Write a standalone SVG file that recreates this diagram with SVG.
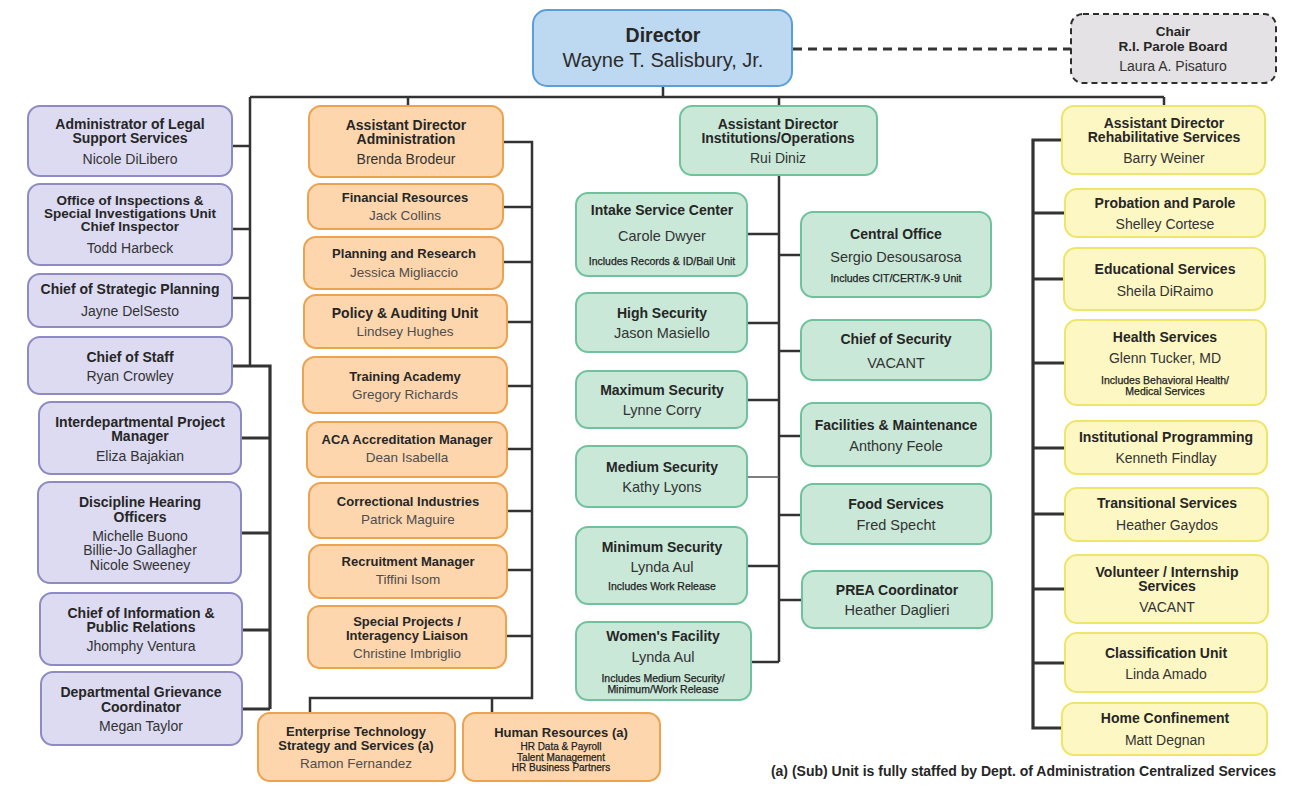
<svg xmlns="http://www.w3.org/2000/svg" width="1300" height="789" viewBox="0 0 1300 789">
<style>
text{font-family:"Liberation Sans",Arial,sans-serif;text-anchor:middle;fill:#2b2b2b}
.t{font-weight:bold;font-size:14px;fill:#262626}
.n{font-size:14px;fill:#333}
.ot{font-weight:bold;font-size:13px;fill:#262626}
.on{font-size:13.5px;fill:#4d4d4d}
.gt{font-weight:bold;font-size:14px;fill:#262626}
.gn{font-size:14.5px;fill:#333}
.s{font-size:10.5px;fill:#222;stroke:#222;stroke-width:0.25}
.hs{font-size:10px;fill:#222;stroke:#222;stroke-width:0.25}
.lav{fill:#dddbf1;stroke:#8e8bc4;stroke-width:2}
.org{fill:#fdd6ad;stroke:#eca24f;stroke-width:2}
.grn{fill:#c9e8d8;stroke:#70c29c;stroke-width:2}
.yel{fill:#fdf7c3;stroke:#efe56a;stroke-width:2}
.dir{fill:#bdd8f1;stroke:#5c9fd7;stroke-width:2}
.chair{fill:#e4e2e4;stroke:#2e2e2e;stroke-width:2;stroke-dasharray:6 4}
.c{fill:none;stroke:#333;stroke-width:2.5}
.ct{fill:none;stroke:#333;stroke-width:3.2}
.thin{fill:none;stroke:#555;stroke-width:1.5}
.d{fill:none;stroke:#333;stroke-width:3;stroke-dasharray:9 6}
</style>
<rect width="1300" height="789" fill="#ffffff"/>
<g id="connectors">
<path class="d" d="M793 49 H1071"/>
<path class="c" d="M663 86 V97 M250 97 H1164 M408 97 V106 M779 97 V106 M1164 97 V106"/>
<path class="c" d="M250 97 V366 M232 146 H250 M232 229 H250 M232 298 H250"/>
<path class="ct" d="M232 366 H270 V709 M241 438 H270 M241 533 H270 M242 630 H270 M242 709 H270"/>
<path class="c" d="M503 142 H532 V698 H310 V713 M492 698 V713 M503 207 H532 M503 262 H532 M507 322 H532 M507 386 H532 M507 449 H532 M507 511 H532 M507 570 H532 M506 636 H532"/>
<path class="c" d="M779 175 V662 M747 234 H779 M747 323 H779 M747 400 H779 M747 566 H779 M751 662 H779 M779 255 H801 M779 351 H801 M779 436 H801 M779 515 H801 M779 600 H802"/>
<path class="thin" d="M747 477 H779"/>
<path class="ct" d="M1062 140 H1033 V728 H1062 M1033 213 H1065 M1033 279 H1064 M1033 363 H1065 M1033 448 H1065 M1033 514 H1065 M1033 589 H1065 M1033 663 H1065"/>
</g>
<g id="director"><rect class="dir" x="533" y="10" width="259" height="76" rx="14"/><text x="663" y="42" style="font-weight:bold;font-size:19.5px;fill:#262626">Director</text><text x="663" y="67" style="font-size:20px;fill:#2b2b2b">Wayne T. Salisbury, Jr.</text></g>
<g id="chair"><rect class="chair" x="1071" y="14" width="205" height="69" rx="12"/><text class="t" x="1173" y="36" style="font-size:13.5px">Chair</text><text class="t" x="1173" y="51" style="font-size:13.5px">R.I. Parole Board</text><text class="n" x="1173" y="71">Laura A. Pisaturo</text></g>

<g id="legal"><rect class="lav" x="28" y="106" width="204" height="70" rx="12"/><text class="t" x="130" y="129">Administrator of Legal</text><text class="t" x="130" y="143">Support Services</text><text class="n" x="130" y="164">Nicole DiLibero</text></g>
<g id="inspections"><rect class="lav" x="28" y="184" width="204" height="81" rx="12"/><text class="t" x="130" y="205" style="font-size:13.5px">Office of Inspections &amp;</text><text class="t" x="130" y="218" style="font-size:13.5px">Special Investigations Unit</text><text class="t" x="130" y="231" style="font-size:13.5px">Chief Inspector</text><text class="n" x="130" y="253">Todd Harbeck</text></g>
<g id="strategic"><rect class="lav" x="28" y="274" width="204" height="53" rx="12"/><text class="t" x="130" y="294">Chief of Strategic Planning</text><text class="n" x="130" y="316">Jayne DelSesto</text></g>
<g id="staff"><rect class="lav" x="28" y="337" width="204" height="57" rx="12"/><text class="t" x="130" y="362">Chief of Staff</text><text class="n" x="130" y="381">Ryan Crowley</text></g>
<g id="project"><rect class="lav" x="39" y="402" width="202" height="72" rx="12"/><text class="t" x="140" y="427">Interdepartmental Project</text><text class="t" x="140" y="441">Manager</text><text class="n" x="140" y="461">Eliza Bajakian</text></g>
<g id="discipline"><rect class="lav" x="38" y="482" width="203" height="101" rx="12"/><text class="t" x="140" y="507">Discipline Hearing</text><text class="t" x="140" y="522">Officers</text><text class="n" x="140" y="541">Michelle Buono</text><text class="n" x="140" y="555">Billie-Jo Gallagher</text><text class="n" x="140" y="570">Nicole Sweeney</text></g>
<g id="information"><rect class="lav" x="40" y="593" width="202" height="72" rx="12"/><text class="t" x="141" y="618">Chief of Information &amp;</text><text class="t" x="141" y="632">Public Relations</text><text class="n" x="141" y="651">Jhomphy Ventura</text></g>
<g id="grievance"><rect class="lav" x="41" y="672" width="201" height="73" rx="12"/><text class="t" x="141" y="697">Departmental Grievance</text><text class="t" x="141" y="712">Coordinator</text><text class="n" x="141" y="731">Megan Taylor</text></g>

<g id="ad-admin"><rect class="org" x="309" y="106" width="194" height="71" rx="12"/><text class="gt" x="406" y="130">Assistant Director</text><text class="gt" x="406" y="144">Administration</text><text class="n" x="406" y="164">Brenda Brodeur</text></g>
<g id="financial"><rect class="org" x="308" y="184" width="195" height="45" rx="12"/><text class="ot" x="405" y="202">Financial Resources</text><text class="on" x="405" y="220">Jack Collins</text></g>
<g id="planning"><rect class="org" x="304" y="237" width="199" height="52" rx="12"/><text class="ot" x="404" y="258">Planning and Research</text><text class="on" x="404" y="277">Jessica Migliaccio</text></g>
<g id="policy"><rect class="org" x="304" y="295" width="203" height="53" rx="12"/><text class="gt" x="405" y="318">Policy &amp; Auditing Unit</text><text class="on" x="405" y="336">Lindsey Hughes</text></g>
<g id="training"><rect class="org" x="303" y="357" width="204" height="56" rx="12"/><text class="ot" x="405" y="381">Training Academy</text><text class="on" x="405" y="399">Gregory Richards</text></g>
<g id="aca"><rect class="org" x="307" y="422" width="200" height="55" rx="12"/><text class="ot" x="407" y="444">ACA Accreditation Manager</text><text class="on" x="407" y="462">Dean Isabella</text></g>
<g id="industries"><rect class="org" x="309" y="483" width="198" height="55" rx="12"/><text class="ot" x="408" y="506">Correctional Industries</text><text class="on" x="408" y="524">Patrick Maguire</text></g>
<g id="recruitment"><rect class="org" x="309" y="545" width="198" height="53" rx="12"/><text class="ot" x="408" y="566">Recruitment Manager</text><text class="on" x="408" y="584">Tiffini Isom</text></g>
<g id="special"><rect class="org" x="308" y="606" width="198" height="62" rx="12"/><text class="ot" x="407" y="626">Special Projects /</text><text class="ot" x="407" y="640">Interagency Liaison</text><text class="on" x="407" y="658">Christine Imbriglio</text></g>
<g id="enterprise"><rect class="org" x="258" y="713" width="197" height="68" rx="12"/><text class="ot" x="356" y="736">Enterprise Technology</text><text class="ot" x="356" y="750">Strategy and Services (a)</text><text class="on" x="356" y="768">Ramon Fernandez</text></g>
<g id="hr"><rect class="org" x="463" y="713" width="197" height="68" rx="12"/><text class="ot" x="561" y="737">Human Resources (a)</text><text class="hs" x="561" y="750">HR Data &amp; Payroll</text><text class="hs" x="561" y="761">Talent Management</text><text class="hs" x="561" y="771">HR Business Partners</text></g>

<g id="ad-inst"><rect class="grn" x="680" y="106" width="197" height="69" rx="12"/><text class="gt" x="778" y="129">Assistant Director</text><text class="gt" x="778" y="143">Institutions/Operations</text><text class="n" x="778" y="163">Rui Diniz</text></g>
<g id="intake"><rect class="grn" x="576" y="193" width="171" height="83" rx="12"/><text class="gt" x="662" y="215">Intake Service Center</text><text class="gn" x="662" y="241">Carole Dwyer</text><text class="s" x="662" y="265">Includes Records &amp; ID/Bail Unit</text></g>
<g id="central"><rect class="grn" x="801" y="212" width="190" height="85" rx="12"/><text class="gt" x="896" y="239">Central Office</text><text class="gn" x="896" y="262">Sergio Desousarosa</text><text class="s" x="896" y="282">Includes CIT/CERT/K-9 Unit</text></g>
<g id="high"><rect class="grn" x="576" y="293" width="171" height="59" rx="12"/><text class="gt" x="662" y="318">High Security</text><text class="gn" x="662" y="338">Jason Masiello</text></g>
<g id="chief-security"><rect class="grn" x="801" y="320" width="190" height="60" rx="12"/><text class="gt" x="896" y="344">Chief of Security</text><text class="gn" x="896" y="368">VACANT</text></g>
<g id="maximum"><rect class="grn" x="576" y="371" width="171" height="57" rx="12"/><text class="gt" x="662" y="395">Maximum Security</text><text class="gn" x="662" y="415">Lynne Corry</text></g>
<g id="facilities"><rect class="grn" x="801" y="403" width="190" height="63" rx="12"/><text class="gt" x="896" y="430">Facilities &amp; Maintenance</text><text class="gn" x="896" y="451">Anthony Feole</text></g>
<g id="medium"><rect class="grn" x="576" y="446" width="171" height="61" rx="12"/><text class="gt" x="662" y="472">Medium Security</text><text class="gn" x="662" y="492">Kathy Lyons</text></g>
<g id="food"><rect class="grn" x="801" y="484" width="190" height="60" rx="12"/><text class="gt" x="896" y="509">Food Services</text><text class="gn" x="896" y="530">Fred Specht</text></g>
<g id="minimum"><rect class="grn" x="576" y="527" width="171" height="77" rx="12"/><text class="gt" x="662" y="552">Minimum Security</text><text class="gn" x="662" y="572">Lynda Aul</text><text class="s" x="662" y="590">Includes Work Release</text></g>
<g id="prea"><rect class="grn" x="802" y="571" width="190" height="57" rx="12"/><text class="gt" x="897" y="595">PREA Coordinator</text><text class="gn" x="897" y="615">Heather Daglieri</text></g>
<g id="womens"><rect class="grn" x="576" y="622" width="175" height="78" rx="12"/><text class="gt" x="663" y="641">Women's Facility</text><text class="gn" x="663" y="662">Lynda Aul</text><text class="s" x="663" y="682">Includes Medium Security/</text><text class="s" x="663" y="693">Minimum/Work Release</text></g>

<g id="ad-rehab"><rect class="yel" x="1062" y="106" width="203" height="68" rx="12"/><text class="t" x="1164" y="128">Assistant Director</text><text class="t" x="1164" y="142">Rehabilitative Services</text><text class="n" x="1164" y="163">Barry Weiner</text></g>
<g id="probation"><rect class="yel" x="1065" y="189" width="200" height="48" rx="12"/><text class="t" x="1165" y="208">Probation and Parole</text><text class="n" x="1165" y="229">Shelley Cortese</text></g>
<g id="educational"><rect class="yel" x="1064" y="248" width="201" height="62" rx="12"/><text class="t" x="1165" y="274">Educational Services</text><text class="n" x="1165" y="296">Sheila DiRaimo</text></g>
<g id="health"><rect class="yel" x="1065" y="320" width="201" height="85" rx="12"/><text class="t" x="1165" y="342">Health Services</text><text class="n" x="1165" y="363">Glenn Tucker, MD</text><text class="s" x="1165" y="384">Includes Behavioral Health/</text><text class="s" x="1165" y="395">Medical Services</text></g>
<g id="programming"><rect class="yel" x="1065" y="421" width="202" height="53" rx="12"/><text class="t" x="1166" y="442">Institutional Programming</text><text class="n" x="1166" y="463">Kenneth Findlay</text></g>
<g id="transitional"><rect class="yel" x="1065" y="488" width="203" height="53" rx="12"/><text class="t" x="1167" y="508">Transitional Services</text><text class="n" x="1167" y="530">Heather Gaydos</text></g>
<g id="volunteer"><rect class="yel" x="1065" y="555" width="203" height="68" rx="12"/><text class="t" x="1167" y="577">Volunteer / Internship</text><text class="t" x="1167" y="591">Services</text><text class="n" x="1167" y="612">VACANT</text></g>
<g id="classification"><rect class="yel" x="1065" y="633" width="202" height="59" rx="12"/><text class="t" x="1166" y="658">Classification Unit</text><text class="n" x="1166" y="679">Linda Amado</text></g>
<g id="home"><rect class="yel" x="1062" y="703" width="205" height="52" rx="12"/><text class="t" x="1165" y="723">Home Confinement</text><text class="n" x="1165" y="745">Matt Degnan</text></g>

<text x="1276" y="776" style="text-anchor:end;font-weight:bold;font-size:14px;fill:#262626">(a) (Sub) Unit is fully staffed by Dept. of Administration Centralized Services</text>
</svg>
